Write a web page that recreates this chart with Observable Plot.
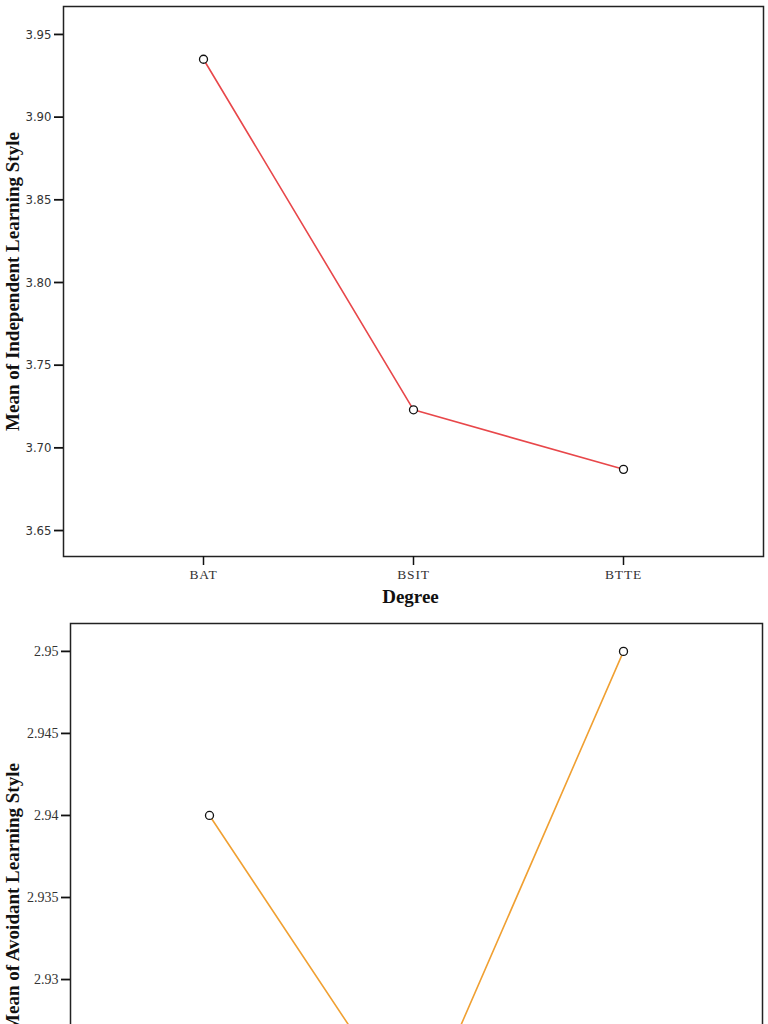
<!DOCTYPE html>
<html>
<head>
<meta charset="utf-8">
<script src="https://cdn.jsdelivr.net/npm/d3@7"></script>
<script src="https://cdn.jsdelivr.net/npm/@observablehq/plot@0.6"></script>
<style>
  html, body { margin: 0; padding: 0; background: #fff; overflow: hidden; }
  #wrap { position: relative; width: 768px; height: 1024px; overflow: hidden; }
  #c1 { position: absolute; left: 0; top: 0; }
  #c2 { position: absolute; left: 0; top: 615px; }
</style>
</head>
<body>
<div id="wrap"><div id="c1"></div><div id="c2"></div></div>
<script>
const degrees = ["BAT", "BSIT", "BTTE"];
const independentMeans = [3.935, 3.723, 3.687];
const avoidantMeans = [2.940, 2.921, 2.950];
const yTicksIndependent = [3.65, 3.70, 3.75, 3.80, 3.85, 3.90, 3.95];
const yTicksAvoidant = [2.92, 2.925, 2.93, 2.935, 2.94, 2.945, 2.95];
const xTitle = "Degree";
const yTitleIndependent = "Mean of Independent Learning Style";
const yTitleAvoidant = "Mean of Avoidant Learning Style";

function makeChart({values, yDomain, yTicks, tickFmt, tickFont, tickSize, tickStretch, color, yTitle, marginLeft, marginRight, marginTop}) {
  const data = degrees.map((d, i) => ({degree: d, mean: values[i]}));
  const svg = Plot.plot({
    width: 768,
    height: 615,
    marginLeft, marginRight, marginTop,
    marginBottom: 59,
    style: {background: "white", overflow: "visible"},
    x: {type: "point", domain: degrees, padding: 2 / 3},
    y: {domain: yDomain},
    marks: [
      Plot.frame({stroke: "#222", strokeWidth: 1.5}),
      Plot.axisY({
        ticks: yTicks, tickFormat: tickFmt, tickSize: 9, tickPadding: 3,
        stroke: "#111", strokeWidth: 1.8, fill: "#333", label: null
      }),
      Plot.axisX({
        tickSize: 9, tickPadding: 4, stroke: "#111", strokeWidth: 1.5, fill: "#333", label: null
      }),
      Plot.line(data, {x: "degree", y: "mean", stroke: color, strokeWidth: 1.6}),
      Plot.dot(data, {x: "degree", y: "mean", r: 4, stroke: "#111", strokeWidth: 1.3, fill: "#fff"}),
      Plot.text([yTitle], {
        text: d => d, frameAnchor: "left", dx: -(marginLeft - 12), rotate: -90,
        textAnchor: "middle", lineAnchor: "middle",
        fontFamily: "Liberation Serif, serif", fontWeight: "bold", fontSize: 19, fill: "#111"
      }),
      Plot.text([xTitle], {
        text: d => d, frameAnchor: "bottom", dy: 46, dx: -3, textAnchor: "middle",
        fontFamily: "Liberation Serif, serif", fontWeight: "bold", fontSize: 19, fill: "#111"
      })
    ]
  });
  const s = d3.select(svg);
  s.selectAll('g[aria-label="y-axis tick label"]')
    .attr("font-family", tickFont).attr("font-size", tickSize)
    .style("font-stretch", tickStretch);
  s.selectAll('g[aria-label="x-axis tick label"]')
    .attr("font-family", "Liberation Serif, serif").attr("font-size", 13.5)
    .attr("letter-spacing", 0.8);
  return svg;
}

const chart1 = makeChart({
  values: independentMeans,
  yDomain: [3.6343, 3.9669],
  yTicks: yTicksIndependent,
  tickFmt: d3.format(".2f"),
  tickFont: "Liberation Sans Narrow, DejaVu Sans Condensed, sans-serif",
  tickSize: 13,
  tickStretch: "condensed",
  color: "#e8474a",
  yTitle: yTitleIndependent,
  marginLeft: 63, marginRight: 5, marginTop: 6
});
document.getElementById("c1").appendChild(chart1);

const chart2 = makeChart({
  values: avoidantMeans,
  yDomain: [2.9183, 2.9517],
  yTicks: yTicksAvoidant,
  tickFmt: d => String(d),
  tickFont: "Liberation Serif, serif",
  tickSize: 14,
  tickStretch: "normal",
  color: "#f0a032",
  yTitle: yTitleAvoidant,
  marginLeft: 70, marginRight: 6, marginTop: 8
});
document.getElementById("c2").appendChild(chart2);
</script>
</body>
</html>
